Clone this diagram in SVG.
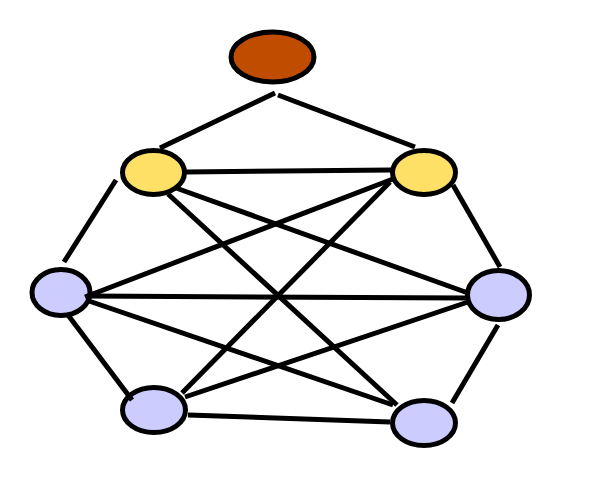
<svg xmlns="http://www.w3.org/2000/svg" width="593" height="479" viewBox="0 0 593 479">
<style>
.n{stroke:#000;stroke-width:5}
.top{fill:#c04c00}
.y{fill:#ffe066}
.p{fill:#ccccff}
.e line{stroke:#000;stroke-width:5;stroke-linecap:butt}
</style>
<rect width="593" height="479" fill="#fff"/>
<g id="nodes">
<g id="n-top"><ellipse class="n top" cx="272.5" cy="57" rx="41.5" ry="25"/></g>
<g id="n-yl"><ellipse class="n y" cx="153.5" cy="172.5" rx="31" ry="22"/></g>
<g id="n-yr"><ellipse class="n y" cx="424" cy="172.5" rx="31.5" ry="22"/></g>
<g id="n-pl"><ellipse class="n p" cx="61" cy="292.5" rx="29" ry="23"/></g>
<g id="n-pr"><ellipse class="n p" cx="498.5" cy="295" rx="31" ry="24.5"/></g>
<g id="n-bl"><ellipse class="n p" cx="154" cy="410" rx="31.5" ry="22.5"/></g>
<g id="n-br"><ellipse class="n p" cx="424" cy="423" rx="31.5" ry="22.5"/></g>
</g>
<g id="connectors" class="e">
<line x1="275" y1="93" x2="160" y2="148"/>
<line x1="278" y1="95" x2="415" y2="147"/>
<line x1="116" y1="180" x2="64" y2="262"/>
<line x1="453" y1="185" x2="500" y2="267"/>
<line x1="68" y1="315" x2="132" y2="400"/>
<line x1="498" y1="325" x2="452" y2="403"/>
<line x1="186" y1="172" x2="392" y2="170"/>
<line x1="176" y1="188" x2="468" y2="293"/>
<line x1="168" y1="194" x2="397" y2="405"/>
<line x1="393" y1="179" x2="85" y2="297"/>
<line x1="390" y1="182" x2="182" y2="393"/>
<line x1="88" y1="296" x2="467" y2="298"/>
<line x1="86" y1="300" x2="393" y2="405"/>
<line x1="468" y1="302" x2="185" y2="397"/>
<line x1="188" y1="415" x2="390" y2="422"/>
</g>
</svg>
